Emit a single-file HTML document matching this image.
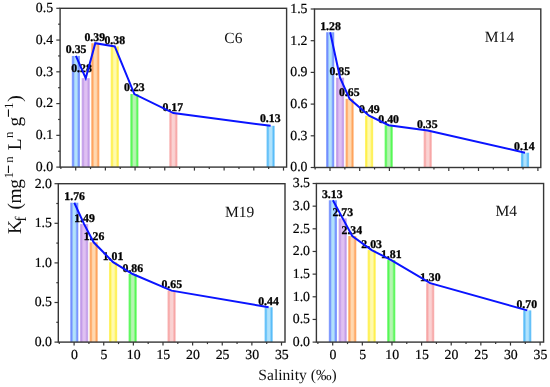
<!DOCTYPE html><html><head><meta charset="utf-8"><style>html,body{margin:0;padding:0;background:#fff;}svg{display:block;will-change:transform;}</style></head><body>
<svg width="550" height="387" viewBox="0 0 550 387" text-rendering="geometricPrecision">
<defs>
<linearGradient id="g0" x1="0" x2="1" y1="0" y2="0"><stop offset="0" stop-color="#6f8cff" stop-opacity="0.75"/><stop offset="0.18" stop-color="#6f8cff"/><stop offset="0.38" stop-color="#b2e2fa"/><stop offset="0.62" stop-color="#b2e2fa"/><stop offset="0.85" stop-color="#6f8cff"/><stop offset="1" stop-color="#6f8cff" stop-opacity="0.75"/></linearGradient>
<linearGradient id="g1" x1="0" x2="1" y1="0" y2="0"><stop offset="0" stop-color="#c29be8" stop-opacity="0.75"/><stop offset="0.18" stop-color="#c29be8"/><stop offset="0.38" stop-color="#dfc0f2"/><stop offset="0.62" stop-color="#dfc0f2"/><stop offset="0.85" stop-color="#c29be8"/><stop offset="1" stop-color="#c29be8" stop-opacity="0.75"/></linearGradient>
<linearGradient id="g2" x1="0" x2="1" y1="0" y2="0"><stop offset="0" stop-color="#ffa35c" stop-opacity="0.75"/><stop offset="0.18" stop-color="#ffa35c"/><stop offset="0.38" stop-color="#ffd8b0"/><stop offset="0.62" stop-color="#ffd8b0"/><stop offset="0.85" stop-color="#ffa35c"/><stop offset="1" stop-color="#ffa35c" stop-opacity="0.75"/></linearGradient>
<linearGradient id="g3" x1="0" x2="1" y1="0" y2="0"><stop offset="0" stop-color="#fff04a" stop-opacity="0.75"/><stop offset="0.18" stop-color="#fff04a"/><stop offset="0.38" stop-color="#fffaae"/><stop offset="0.62" stop-color="#fffaae"/><stop offset="0.85" stop-color="#fff04a"/><stop offset="1" stop-color="#fff04a" stop-opacity="0.75"/></linearGradient>
<linearGradient id="g4" x1="0" x2="1" y1="0" y2="0"><stop offset="0" stop-color="#52f852" stop-opacity="0.75"/><stop offset="0.18" stop-color="#52f852"/><stop offset="0.38" stop-color="#b6f4b2"/><stop offset="0.62" stop-color="#b6f4b2"/><stop offset="0.85" stop-color="#52f852"/><stop offset="1" stop-color="#52f852" stop-opacity="0.75"/></linearGradient>
<linearGradient id="g5" x1="0" x2="1" y1="0" y2="0"><stop offset="0" stop-color="#f7a5a5" stop-opacity="0.75"/><stop offset="0.18" stop-color="#f7a5a5"/><stop offset="0.38" stop-color="#fad2d2"/><stop offset="0.62" stop-color="#fad2d2"/><stop offset="0.85" stop-color="#f7a5a5"/><stop offset="1" stop-color="#f7a5a5" stop-opacity="0.75"/></linearGradient>
<linearGradient id="g6" x1="0" x2="1" y1="0" y2="0"><stop offset="0" stop-color="#58bcf8" stop-opacity="0.75"/><stop offset="0.18" stop-color="#58bcf8"/><stop offset="0.38" stop-color="#b0e2fc"/><stop offset="0.62" stop-color="#b0e2fc"/><stop offset="0.85" stop-color="#58bcf8"/><stop offset="1" stop-color="#58bcf8" stop-opacity="0.75"/></linearGradient>
</defs>
<rect width="550" height="387" fill="#fff"/>
<rect x="71.78" y="55.94" width="8.2" height="111.16" fill="url(#g0)"/>
<rect x="81.63" y="78.17" width="8.2" height="88.93" fill="url(#g1)"/>
<rect x="91.19" y="43.24" width="8.2" height="123.86" fill="url(#g2)"/>
<rect x="110.67" y="46.41" width="8.2" height="120.69" fill="url(#g3)"/>
<rect x="130.26" y="94.05" width="8.2" height="73.05" fill="url(#g4)"/>
<rect x="169.26" y="113.11" width="8.2" height="53.99" fill="url(#g5)"/>
<rect x="266.51" y="125.81" width="8.2" height="41.29" fill="url(#g6)"/>
<rect x="60.1" y="8.3" width="226.50" height="158.80" fill="none" stroke="#363636" stroke-width="1.4"/>
<line x1="56.300000000000004" y1="167.10" x2="60.1" y2="167.10" stroke="#363636" stroke-width="1.2"/>
<line x1="58.1" y1="151.22" x2="60.1" y2="151.22" stroke="#363636" stroke-width="1.2"/>
<text x="53.10" y="171.00" font-family="Liberation Serif" font-size="13.8" text-anchor="end" fill="#000" stroke="#000" stroke-width="0.2">0.0</text>
<line x1="56.300000000000004" y1="135.34" x2="60.1" y2="135.34" stroke="#363636" stroke-width="1.2"/>
<line x1="58.1" y1="119.46" x2="60.1" y2="119.46" stroke="#363636" stroke-width="1.2"/>
<text x="53.10" y="139.24" font-family="Liberation Serif" font-size="13.8" text-anchor="end" fill="#000" stroke="#000" stroke-width="0.2">0.1</text>
<line x1="56.300000000000004" y1="103.58" x2="60.1" y2="103.58" stroke="#363636" stroke-width="1.2"/>
<line x1="58.1" y1="87.70" x2="60.1" y2="87.70" stroke="#363636" stroke-width="1.2"/>
<text x="53.10" y="107.48" font-family="Liberation Serif" font-size="13.8" text-anchor="end" fill="#000" stroke="#000" stroke-width="0.2">0.2</text>
<line x1="56.300000000000004" y1="71.82" x2="60.1" y2="71.82" stroke="#363636" stroke-width="1.2"/>
<line x1="58.1" y1="55.94" x2="60.1" y2="55.94" stroke="#363636" stroke-width="1.2"/>
<text x="53.10" y="75.72" font-family="Liberation Serif" font-size="13.8" text-anchor="end" fill="#000" stroke="#000" stroke-width="0.2">0.3</text>
<line x1="56.300000000000004" y1="40.06" x2="60.1" y2="40.06" stroke="#363636" stroke-width="1.2"/>
<line x1="58.1" y1="24.18" x2="60.1" y2="24.18" stroke="#363636" stroke-width="1.2"/>
<text x="53.10" y="43.96" font-family="Liberation Serif" font-size="13.8" text-anchor="end" fill="#000" stroke="#000" stroke-width="0.2">0.4</text>
<line x1="56.300000000000004" y1="8.30" x2="60.1" y2="8.30" stroke="#363636" stroke-width="1.2"/>
<text x="53.10" y="12.20" font-family="Liberation Serif" font-size="13.8" text-anchor="end" fill="#000" stroke="#000" stroke-width="0.2">0.5</text>
<line x1="75.70" y1="167.1" x2="75.70" y2="170.6" stroke="#363636" stroke-width="1.2"/>
<line x1="105.39" y1="167.1" x2="105.39" y2="170.6" stroke="#363636" stroke-width="1.2"/>
<line x1="135.07" y1="167.1" x2="135.07" y2="170.6" stroke="#363636" stroke-width="1.2"/>
<line x1="164.75" y1="167.1" x2="164.75" y2="170.6" stroke="#363636" stroke-width="1.2"/>
<line x1="194.44" y1="167.1" x2="194.44" y2="170.6" stroke="#363636" stroke-width="1.2"/>
<line x1="224.12" y1="167.1" x2="224.12" y2="170.6" stroke="#363636" stroke-width="1.2"/>
<line x1="253.81" y1="167.1" x2="253.81" y2="170.6" stroke="#363636" stroke-width="1.2"/>
<line x1="283.50" y1="167.1" x2="283.50" y2="170.6" stroke="#363636" stroke-width="1.2"/>
<line x1="60.86" y1="167.1" x2="60.86" y2="169.1" stroke="#363636" stroke-width="1.2"/>
<line x1="90.54" y1="167.1" x2="90.54" y2="169.1" stroke="#363636" stroke-width="1.2"/>
<line x1="120.23" y1="167.1" x2="120.23" y2="169.1" stroke="#363636" stroke-width="1.2"/>
<line x1="149.91" y1="167.1" x2="149.91" y2="169.1" stroke="#363636" stroke-width="1.2"/>
<line x1="179.60" y1="167.1" x2="179.60" y2="169.1" stroke="#363636" stroke-width="1.2"/>
<line x1="209.28" y1="167.1" x2="209.28" y2="169.1" stroke="#363636" stroke-width="1.2"/>
<line x1="238.97" y1="167.1" x2="238.97" y2="169.1" stroke="#363636" stroke-width="1.2"/>
<line x1="268.65" y1="167.1" x2="268.65" y2="169.1" stroke="#363636" stroke-width="1.2"/>
<text x="76.20" y="53.20" font-family="Liberation Serif" font-weight="bold" font-size="11.8" text-anchor="middle" fill="#000" stroke="#000" stroke-width="0.3">0.35</text>
<text x="81.50" y="71.50" font-family="Liberation Serif" font-weight="bold" font-size="11.8" text-anchor="middle" fill="#000" stroke="#000" stroke-width="0.3">0.28</text>
<text x="94.75" y="40.50" font-family="Liberation Serif" font-weight="bold" font-size="11.8" text-anchor="middle" fill="#000" stroke="#000" stroke-width="0.3">0.39</text>
<text x="114.75" y="43.50" font-family="Liberation Serif" font-weight="bold" font-size="11.8" text-anchor="middle" fill="#000" stroke="#000" stroke-width="0.3">0.38</text>
<text x="134.45" y="91.20" font-family="Liberation Serif" font-weight="bold" font-size="11.8" text-anchor="middle" fill="#000" stroke="#000" stroke-width="0.3">0.23</text>
<text x="172.80" y="110.50" font-family="Liberation Serif" font-weight="bold" font-size="11.8" text-anchor="middle" fill="#000" stroke="#000" stroke-width="0.3">0.17</text>
<text x="270.30" y="122.40" font-family="Liberation Serif" font-weight="bold" font-size="11.8" text-anchor="middle" fill="#000" stroke="#000" stroke-width="0.3">0.13</text>
<polyline points="75.88,55.94 85.73,78.17 95.29,43.24 114.77,46.41 134.36,94.05 173.36,113.11 270.61,125.81" fill="none" stroke="#0a14ff" stroke-width="2" stroke-linejoin="miter"/>
<text x="233.4" y="43" font-family="Liberation Serif" font-size="15.5" text-anchor="middle" fill="#111">C6</text>
<rect x="326.08" y="32.25" width="8.2" height="135.25" fill="url(#g0)"/>
<rect x="335.94" y="77.68" width="8.2" height="89.82" fill="url(#g1)"/>
<rect x="345.50" y="98.82" width="8.2" height="68.68" fill="url(#g2)"/>
<rect x="364.99" y="115.72" width="8.2" height="51.78" fill="url(#g3)"/>
<rect x="384.59" y="125.23" width="8.2" height="42.27" fill="url(#g4)"/>
<rect x="423.61" y="130.52" width="8.2" height="36.98" fill="url(#g5)"/>
<rect x="520.91" y="152.71" width="8.2" height="14.79" fill="url(#g6)"/>
<rect x="314.5" y="9" width="226.30" height="158.50" fill="none" stroke="#363636" stroke-width="1.4"/>
<line x1="310.7" y1="167.50" x2="314.5" y2="167.50" stroke="#363636" stroke-width="1.2"/>
<text x="307.50" y="171.40" font-family="Liberation Serif" font-size="13.8" text-anchor="end" fill="#000" stroke="#000" stroke-width="0.2">0.0</text>
<line x1="310.7" y1="135.80" x2="314.5" y2="135.80" stroke="#363636" stroke-width="1.2"/>
<text x="307.50" y="139.70" font-family="Liberation Serif" font-size="13.8" text-anchor="end" fill="#000" stroke="#000" stroke-width="0.2">0.3</text>
<line x1="310.7" y1="104.10" x2="314.5" y2="104.10" stroke="#363636" stroke-width="1.2"/>
<text x="307.50" y="108.00" font-family="Liberation Serif" font-size="13.8" text-anchor="end" fill="#000" stroke="#000" stroke-width="0.2">0.6</text>
<line x1="310.7" y1="72.40" x2="314.5" y2="72.40" stroke="#363636" stroke-width="1.2"/>
<text x="307.50" y="76.30" font-family="Liberation Serif" font-size="13.8" text-anchor="end" fill="#000" stroke="#000" stroke-width="0.2">0.9</text>
<line x1="310.7" y1="40.70" x2="314.5" y2="40.70" stroke="#363636" stroke-width="1.2"/>
<text x="307.50" y="44.60" font-family="Liberation Serif" font-size="13.8" text-anchor="end" fill="#000" stroke="#000" stroke-width="0.2">1.2</text>
<line x1="310.7" y1="9.00" x2="314.5" y2="9.00" stroke="#363636" stroke-width="1.2"/>
<text x="307.50" y="12.90" font-family="Liberation Serif" font-size="13.8" text-anchor="end" fill="#000" stroke="#000" stroke-width="0.2">1.5</text>
<line x1="330.00" y1="167.5" x2="330.00" y2="171.0" stroke="#363636" stroke-width="1.2"/>
<line x1="359.70" y1="167.5" x2="359.70" y2="171.0" stroke="#363636" stroke-width="1.2"/>
<line x1="389.40" y1="167.5" x2="389.40" y2="171.0" stroke="#363636" stroke-width="1.2"/>
<line x1="419.10" y1="167.5" x2="419.10" y2="171.0" stroke="#363636" stroke-width="1.2"/>
<line x1="448.80" y1="167.5" x2="448.80" y2="171.0" stroke="#363636" stroke-width="1.2"/>
<line x1="478.50" y1="167.5" x2="478.50" y2="171.0" stroke="#363636" stroke-width="1.2"/>
<line x1="508.20" y1="167.5" x2="508.20" y2="171.0" stroke="#363636" stroke-width="1.2"/>
<line x1="537.90" y1="167.5" x2="537.90" y2="171.0" stroke="#363636" stroke-width="1.2"/>
<line x1="315.15" y1="167.5" x2="315.15" y2="169.5" stroke="#363636" stroke-width="1.2"/>
<line x1="344.85" y1="167.5" x2="344.85" y2="169.5" stroke="#363636" stroke-width="1.2"/>
<line x1="374.55" y1="167.5" x2="374.55" y2="169.5" stroke="#363636" stroke-width="1.2"/>
<line x1="404.25" y1="167.5" x2="404.25" y2="169.5" stroke="#363636" stroke-width="1.2"/>
<line x1="433.95" y1="167.5" x2="433.95" y2="169.5" stroke="#363636" stroke-width="1.2"/>
<line x1="463.65" y1="167.5" x2="463.65" y2="169.5" stroke="#363636" stroke-width="1.2"/>
<line x1="493.35" y1="167.5" x2="493.35" y2="169.5" stroke="#363636" stroke-width="1.2"/>
<line x1="523.05" y1="167.5" x2="523.05" y2="169.5" stroke="#363636" stroke-width="1.2"/>
<text x="330.50" y="29.50" font-family="Liberation Serif" font-weight="bold" font-size="11.8" text-anchor="middle" fill="#000" stroke="#000" stroke-width="0.3">1.28</text>
<text x="339.75" y="75.00" font-family="Liberation Serif" font-weight="bold" font-size="11.8" text-anchor="middle" fill="#000" stroke="#000" stroke-width="0.3">0.85</text>
<text x="349.25" y="96.00" font-family="Liberation Serif" font-weight="bold" font-size="11.8" text-anchor="middle" fill="#000" stroke="#000" stroke-width="0.3">0.65</text>
<text x="369.45" y="112.70" font-family="Liberation Serif" font-weight="bold" font-size="11.8" text-anchor="middle" fill="#000" stroke="#000" stroke-width="0.3">0.49</text>
<text x="388.65" y="122.80" font-family="Liberation Serif" font-weight="bold" font-size="11.8" text-anchor="middle" fill="#000" stroke="#000" stroke-width="0.3">0.40</text>
<text x="427.25" y="128.00" font-family="Liberation Serif" font-weight="bold" font-size="11.8" text-anchor="middle" fill="#000" stroke="#000" stroke-width="0.3">0.35</text>
<text x="524.35" y="150.00" font-family="Liberation Serif" font-weight="bold" font-size="11.8" text-anchor="middle" fill="#000" stroke="#000" stroke-width="0.3">0.14</text>
<polyline points="330.18,32.25 340.04,77.68 349.60,98.82 369.09,115.72 388.69,125.23 427.71,130.52 525.01,152.71" fill="none" stroke="#0a14ff" stroke-width="2" stroke-linejoin="miter"/>
<text x="499.5" y="42" font-family="Liberation Serif" font-size="15.5" text-anchor="middle" fill="#111">M14</text>
<rect x="70.18" y="202.71" width="8.2" height="139.39" fill="url(#g0)"/>
<rect x="80.01" y="224.09" width="8.2" height="118.01" fill="url(#g1)"/>
<rect x="89.56" y="242.31" width="8.2" height="99.79" fill="url(#g2)"/>
<rect x="108.99" y="262.11" width="8.2" height="79.99" fill="url(#g3)"/>
<rect x="128.55" y="273.99" width="8.2" height="68.11" fill="url(#g4)"/>
<rect x="167.48" y="290.62" width="8.2" height="51.48" fill="url(#g5)"/>
<rect x="264.55" y="307.25" width="8.2" height="34.85" fill="url(#g6)"/>
<rect x="58.3" y="183.7" width="226.70" height="158.40" fill="none" stroke="#363636" stroke-width="1.4"/>
<line x1="54.5" y1="342.10" x2="58.3" y2="342.10" stroke="#363636" stroke-width="1.2"/>
<line x1="56.3" y1="322.30" x2="58.3" y2="322.30" stroke="#363636" stroke-width="1.2"/>
<text x="51.90" y="346.00" font-family="Liberation Serif" font-size="13.8" text-anchor="end" fill="#000" stroke="#000" stroke-width="0.2">0.0</text>
<line x1="54.5" y1="302.50" x2="58.3" y2="302.50" stroke="#363636" stroke-width="1.2"/>
<line x1="56.3" y1="282.70" x2="58.3" y2="282.70" stroke="#363636" stroke-width="1.2"/>
<text x="51.90" y="306.40" font-family="Liberation Serif" font-size="13.8" text-anchor="end" fill="#000" stroke="#000" stroke-width="0.2">0.5</text>
<line x1="54.5" y1="262.90" x2="58.3" y2="262.90" stroke="#363636" stroke-width="1.2"/>
<line x1="56.3" y1="243.10" x2="58.3" y2="243.10" stroke="#363636" stroke-width="1.2"/>
<text x="51.90" y="266.80" font-family="Liberation Serif" font-size="13.8" text-anchor="end" fill="#000" stroke="#000" stroke-width="0.2">1.0</text>
<line x1="54.5" y1="223.30" x2="58.3" y2="223.30" stroke="#363636" stroke-width="1.2"/>
<line x1="56.3" y1="203.50" x2="58.3" y2="203.50" stroke="#363636" stroke-width="1.2"/>
<text x="51.90" y="227.20" font-family="Liberation Serif" font-size="13.8" text-anchor="end" fill="#000" stroke="#000" stroke-width="0.2">1.5</text>
<line x1="54.5" y1="183.70" x2="58.3" y2="183.70" stroke="#363636" stroke-width="1.2"/>
<text x="51.90" y="187.60" font-family="Liberation Serif" font-size="13.8" text-anchor="end" fill="#000" stroke="#000" stroke-width="0.2">2.0</text>
<line x1="74.10" y1="342.1" x2="74.10" y2="345.6" stroke="#363636" stroke-width="1.2"/>
<text x="74.40" y="359.1" font-family="Liberation Serif" font-size="13.8" text-anchor="middle" fill="#000" stroke="#000" stroke-width="0.2">0</text>
<line x1="103.73" y1="342.1" x2="103.73" y2="345.6" stroke="#363636" stroke-width="1.2"/>
<text x="104.03" y="359.1" font-family="Liberation Serif" font-size="13.8" text-anchor="middle" fill="#000" stroke="#000" stroke-width="0.2">5</text>
<line x1="133.36" y1="342.1" x2="133.36" y2="345.6" stroke="#363636" stroke-width="1.2"/>
<text x="133.66" y="359.1" font-family="Liberation Serif" font-size="13.8" text-anchor="middle" fill="#000" stroke="#000" stroke-width="0.2">10</text>
<line x1="162.99" y1="342.1" x2="162.99" y2="345.6" stroke="#363636" stroke-width="1.2"/>
<text x="163.29" y="359.1" font-family="Liberation Serif" font-size="13.8" text-anchor="middle" fill="#000" stroke="#000" stroke-width="0.2">15</text>
<line x1="192.62" y1="342.1" x2="192.62" y2="345.6" stroke="#363636" stroke-width="1.2"/>
<text x="192.92" y="359.1" font-family="Liberation Serif" font-size="13.8" text-anchor="middle" fill="#000" stroke="#000" stroke-width="0.2">20</text>
<line x1="222.25" y1="342.1" x2="222.25" y2="345.6" stroke="#363636" stroke-width="1.2"/>
<text x="222.55" y="359.1" font-family="Liberation Serif" font-size="13.8" text-anchor="middle" fill="#000" stroke="#000" stroke-width="0.2">25</text>
<line x1="251.88" y1="342.1" x2="251.88" y2="345.6" stroke="#363636" stroke-width="1.2"/>
<text x="252.18" y="359.1" font-family="Liberation Serif" font-size="13.8" text-anchor="middle" fill="#000" stroke="#000" stroke-width="0.2">30</text>
<line x1="281.51" y1="342.1" x2="281.51" y2="345.6" stroke="#363636" stroke-width="1.2"/>
<text x="281.81" y="359.1" font-family="Liberation Serif" font-size="13.8" text-anchor="middle" fill="#000" stroke="#000" stroke-width="0.2">35</text>
<line x1="59.28" y1="342.1" x2="59.28" y2="344.1" stroke="#363636" stroke-width="1.2"/>
<line x1="88.91" y1="342.1" x2="88.91" y2="344.1" stroke="#363636" stroke-width="1.2"/>
<line x1="118.54" y1="342.1" x2="118.54" y2="344.1" stroke="#363636" stroke-width="1.2"/>
<line x1="148.18" y1="342.1" x2="148.18" y2="344.1" stroke="#363636" stroke-width="1.2"/>
<line x1="177.81" y1="342.1" x2="177.81" y2="344.1" stroke="#363636" stroke-width="1.2"/>
<line x1="207.44" y1="342.1" x2="207.44" y2="344.1" stroke="#363636" stroke-width="1.2"/>
<line x1="237.06" y1="342.1" x2="237.06" y2="344.1" stroke="#363636" stroke-width="1.2"/>
<line x1="266.69" y1="342.1" x2="266.69" y2="344.1" stroke="#363636" stroke-width="1.2"/>
<text x="74.65" y="200.00" font-family="Liberation Serif" font-weight="bold" font-size="11.8" text-anchor="middle" fill="#000" stroke="#000" stroke-width="0.3">1.76</text>
<text x="84.50" y="221.50" font-family="Liberation Serif" font-weight="bold" font-size="11.8" text-anchor="middle" fill="#000" stroke="#000" stroke-width="0.3">1.49</text>
<text x="94.00" y="239.50" font-family="Liberation Serif" font-weight="bold" font-size="11.8" text-anchor="middle" fill="#000" stroke="#000" stroke-width="0.3">1.26</text>
<text x="113.05" y="259.80" font-family="Liberation Serif" font-weight="bold" font-size="11.8" text-anchor="middle" fill="#000" stroke="#000" stroke-width="0.3">1.01</text>
<text x="132.85" y="271.60" font-family="Liberation Serif" font-weight="bold" font-size="11.8" text-anchor="middle" fill="#000" stroke="#000" stroke-width="0.3">0.86</text>
<text x="171.75" y="288.00" font-family="Liberation Serif" font-weight="bold" font-size="11.8" text-anchor="middle" fill="#000" stroke="#000" stroke-width="0.3">0.65</text>
<text x="268.50" y="304.50" font-family="Liberation Serif" font-weight="bold" font-size="11.8" text-anchor="middle" fill="#000" stroke="#000" stroke-width="0.3">0.44</text>
<polyline points="74.28,202.71 84.11,224.09 93.66,242.31 113.09,262.11 132.65,273.99 171.58,290.62 268.65,307.25" fill="none" stroke="#0a14ff" stroke-width="2" stroke-linejoin="miter"/>
<text x="239.7" y="217" font-family="Liberation Serif" font-size="15.5" text-anchor="middle" fill="#111">M19</text>
<rect x="328.78" y="200.27" width="8.2" height="141.83" fill="url(#g0)"/>
<rect x="338.61" y="218.39" width="8.2" height="123.71" fill="url(#g1)"/>
<rect x="348.16" y="236.06" width="8.2" height="106.04" fill="url(#g2)"/>
<rect x="367.59" y="250.11" width="8.2" height="91.99" fill="url(#g3)"/>
<rect x="387.15" y="260.08" width="8.2" height="82.02" fill="url(#g4)"/>
<rect x="426.08" y="283.19" width="8.2" height="58.91" fill="url(#g5)"/>
<rect x="523.15" y="310.38" width="8.2" height="31.72" fill="url(#g6)"/>
<rect x="316.4" y="183.5" width="227.20" height="158.60" fill="none" stroke="#363636" stroke-width="1.4"/>
<line x1="312.59999999999997" y1="342.10" x2="316.4" y2="342.10" stroke="#363636" stroke-width="1.2"/>
<text x="310.00" y="346.00" font-family="Liberation Serif" font-size="13.8" text-anchor="end" fill="#000" stroke="#000" stroke-width="0.2">0.0</text>
<line x1="312.59999999999997" y1="319.44" x2="316.4" y2="319.44" stroke="#363636" stroke-width="1.2"/>
<text x="310.00" y="323.34" font-family="Liberation Serif" font-size="13.8" text-anchor="end" fill="#000" stroke="#000" stroke-width="0.2">0.5</text>
<line x1="312.59999999999997" y1="296.79" x2="316.4" y2="296.79" stroke="#363636" stroke-width="1.2"/>
<text x="310.00" y="300.69" font-family="Liberation Serif" font-size="13.8" text-anchor="end" fill="#000" stroke="#000" stroke-width="0.2">1.0</text>
<line x1="312.59999999999997" y1="274.13" x2="316.4" y2="274.13" stroke="#363636" stroke-width="1.2"/>
<text x="310.00" y="278.03" font-family="Liberation Serif" font-size="13.8" text-anchor="end" fill="#000" stroke="#000" stroke-width="0.2">1.5</text>
<line x1="312.59999999999997" y1="251.47" x2="316.4" y2="251.47" stroke="#363636" stroke-width="1.2"/>
<text x="310.00" y="255.37" font-family="Liberation Serif" font-size="13.8" text-anchor="end" fill="#000" stroke="#000" stroke-width="0.2">2.0</text>
<line x1="312.59999999999997" y1="228.81" x2="316.4" y2="228.81" stroke="#363636" stroke-width="1.2"/>
<text x="310.00" y="232.71" font-family="Liberation Serif" font-size="13.8" text-anchor="end" fill="#000" stroke="#000" stroke-width="0.2">2.5</text>
<line x1="312.59999999999997" y1="206.16" x2="316.4" y2="206.16" stroke="#363636" stroke-width="1.2"/>
<text x="310.00" y="210.06" font-family="Liberation Serif" font-size="13.8" text-anchor="end" fill="#000" stroke="#000" stroke-width="0.2">3.0</text>
<line x1="312.59999999999997" y1="183.50" x2="316.4" y2="183.50" stroke="#363636" stroke-width="1.2"/>
<text x="310.00" y="187.40" font-family="Liberation Serif" font-size="13.8" text-anchor="end" fill="#000" stroke="#000" stroke-width="0.2">3.5</text>
<line x1="332.70" y1="342.1" x2="332.70" y2="345.6" stroke="#363636" stroke-width="1.2"/>
<text x="333.00" y="359.1" font-family="Liberation Serif" font-size="13.8" text-anchor="middle" fill="#000" stroke="#000" stroke-width="0.2">0</text>
<line x1="362.33" y1="342.1" x2="362.33" y2="345.6" stroke="#363636" stroke-width="1.2"/>
<text x="362.63" y="359.1" font-family="Liberation Serif" font-size="13.8" text-anchor="middle" fill="#000" stroke="#000" stroke-width="0.2">5</text>
<line x1="391.96" y1="342.1" x2="391.96" y2="345.6" stroke="#363636" stroke-width="1.2"/>
<text x="392.26" y="359.1" font-family="Liberation Serif" font-size="13.8" text-anchor="middle" fill="#000" stroke="#000" stroke-width="0.2">10</text>
<line x1="421.59" y1="342.1" x2="421.59" y2="345.6" stroke="#363636" stroke-width="1.2"/>
<text x="421.89" y="359.1" font-family="Liberation Serif" font-size="13.8" text-anchor="middle" fill="#000" stroke="#000" stroke-width="0.2">15</text>
<line x1="451.22" y1="342.1" x2="451.22" y2="345.6" stroke="#363636" stroke-width="1.2"/>
<text x="451.52" y="359.1" font-family="Liberation Serif" font-size="13.8" text-anchor="middle" fill="#000" stroke="#000" stroke-width="0.2">20</text>
<line x1="480.85" y1="342.1" x2="480.85" y2="345.6" stroke="#363636" stroke-width="1.2"/>
<text x="481.15" y="359.1" font-family="Liberation Serif" font-size="13.8" text-anchor="middle" fill="#000" stroke="#000" stroke-width="0.2">25</text>
<line x1="510.48" y1="342.1" x2="510.48" y2="345.6" stroke="#363636" stroke-width="1.2"/>
<text x="510.78" y="359.1" font-family="Liberation Serif" font-size="13.8" text-anchor="middle" fill="#000" stroke="#000" stroke-width="0.2">30</text>
<line x1="540.11" y1="342.1" x2="540.11" y2="345.6" stroke="#363636" stroke-width="1.2"/>
<text x="540.41" y="359.1" font-family="Liberation Serif" font-size="13.8" text-anchor="middle" fill="#000" stroke="#000" stroke-width="0.2">35</text>
<line x1="317.88" y1="342.1" x2="317.88" y2="344.1" stroke="#363636" stroke-width="1.2"/>
<line x1="347.51" y1="342.1" x2="347.51" y2="344.1" stroke="#363636" stroke-width="1.2"/>
<line x1="377.14" y1="342.1" x2="377.14" y2="344.1" stroke="#363636" stroke-width="1.2"/>
<line x1="406.77" y1="342.1" x2="406.77" y2="344.1" stroke="#363636" stroke-width="1.2"/>
<line x1="436.40" y1="342.1" x2="436.40" y2="344.1" stroke="#363636" stroke-width="1.2"/>
<line x1="466.03" y1="342.1" x2="466.03" y2="344.1" stroke="#363636" stroke-width="1.2"/>
<line x1="495.66" y1="342.1" x2="495.66" y2="344.1" stroke="#363636" stroke-width="1.2"/>
<line x1="525.29" y1="342.1" x2="525.29" y2="344.1" stroke="#363636" stroke-width="1.2"/>
<text x="332.25" y="197.50" font-family="Liberation Serif" font-weight="bold" font-size="11.8" text-anchor="middle" fill="#000" stroke="#000" stroke-width="0.3">3.13</text>
<text x="342.75" y="215.50" font-family="Liberation Serif" font-weight="bold" font-size="11.8" text-anchor="middle" fill="#000" stroke="#000" stroke-width="0.3">2.73</text>
<text x="351.85" y="233.60" font-family="Liberation Serif" font-weight="bold" font-size="11.8" text-anchor="middle" fill="#000" stroke="#000" stroke-width="0.3">2.34</text>
<text x="371.65" y="247.80" font-family="Liberation Serif" font-weight="bold" font-size="11.8" text-anchor="middle" fill="#000" stroke="#000" stroke-width="0.3">2.03</text>
<text x="391.25" y="257.70" font-family="Liberation Serif" font-weight="bold" font-size="11.8" text-anchor="middle" fill="#000" stroke="#000" stroke-width="0.3">1.81</text>
<text x="430.25" y="280.80" font-family="Liberation Serif" font-weight="bold" font-size="11.8" text-anchor="middle" fill="#000" stroke="#000" stroke-width="0.3">1.30</text>
<text x="526.75" y="308.00" font-family="Liberation Serif" font-weight="bold" font-size="11.8" text-anchor="middle" fill="#000" stroke="#000" stroke-width="0.3">0.70</text>
<polyline points="332.88,200.27 342.71,218.39 352.26,236.06 371.69,250.11 391.25,260.08 430.18,283.19 527.25,310.38" fill="none" stroke="#0a14ff" stroke-width="2" stroke-linejoin="miter"/>
<text x="506.2" y="216" font-family="Liberation Serif" font-size="15.5" text-anchor="middle" fill="#111">M4</text>
<text x="297.5" y="380.4" font-family="Liberation Serif" font-size="15.6" text-anchor="middle" fill="#111">Salinity (‰)</text>
<g transform="rotate(-90)" font-family="Liberation Serif" fill="#111">
<text x="-234" y="21.3" font-size="19.5" fill="#111">K</text>
<text x="-221.8" y="26.4" font-size="16" fill="#111">f</text>
<text x="-209.4" y="21.3" font-size="19.5" fill="#111">(</text>
<text x="-203.6" y="21.3" font-size="19.5" fill="#111">m</text>
<text x="-188.8" y="21.3" font-size="19.5" fill="#111">g</text>
<text x="-178.3" y="12.6" font-size="12.6" fill="#111">1</text>
<rect x="-173.00" y="7.9" width="7.4" height="1.1" fill="#111"/>
<text x="-162.8" y="12.6" font-size="12.6" fill="#111">n</text>
<text x="-150.3" y="21.3" font-size="19.5" fill="#111">L</text>
<text x="-138.1" y="12.6" font-size="12.6" fill="#111">n</text>
<text x="-126.6" y="21.3" font-size="19.5" fill="#111">g</text>
<rect x="-116.80" y="7.9" width="7.4" height="1.1" fill="#111"/>
<text x="-108.8" y="12.6" font-size="12.6" fill="#111">1</text>
<text x="-101.8" y="21.3" font-size="19.5" fill="#111">)</text>
</g>
</svg></body></html>
